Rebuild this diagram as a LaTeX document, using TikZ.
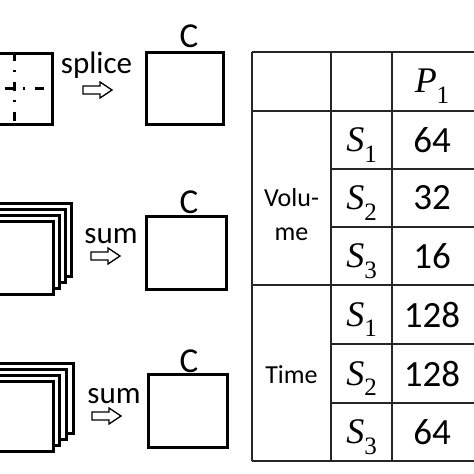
\documentclass[tikz,border=0pt]{standalone}
\usepackage{fontspec}
\setmainfont{Carlito}
\newfontfamily\symfont{Liberation Serif}
\newcommand\symsub[2]{{\symfont\itshape #1}\raisebox{-0.3em}{\symfont\fontsize{25}{26}\selectfont #2}}
\usetikzlibrary{positioning}

\begin{document}
\begin{tikzpicture}[x=1pt, y=-1pt,
    sqbox/.style={draw, line width=3pt, fill=white, inner sep=0pt, minimum width=79pt, minimum height=73pt},
    splitline/.style={line width=3pt, dash pattern=on 9pt off 9pt on 2pt off 10pt},
    lbl/.style={font=\fontsize{31}{36}\selectfont, anchor=base, inner sep=0pt},
    clbl/.style={font=\fontsize{35}{40}\selectfont, anchor=base, inner sep=0pt},
    cell/.style={font=\fontsize{37}{42}\selectfont, inner sep=0pt},
    mcell/.style={font=\fontsize{36}{40}\selectfont, inner sep=0pt},
    grp/.style={font=\fontsize{26}{34}\selectfont, align=center, inner sep=0pt},
    tabline/.style={line width=1.3pt, black!85},
    hollowarr/.pic={\draw[line width=1.3pt, line join=miter] (0,-4) -- (17,-4) -- (17,-8) -- (29,0) -- (17,8) -- (17,4) -- (0,4) -- cycle;}
]
\fill[white] (0,0) rectangle (474,474);
\useasboundingbox (0,0) rectangle (474,474);
\clip (0,0) rectangle (474,474);

\def\xA{252}
\def\xB{331}
\def\xC{392}
\def\xD{474}
\def\xS{361.5}
\def\xVal{432}
\def\yA{52}
\def\yB{111}
\def\yC{169}
\def\yD{227}
\def\yE{285}
\def\yF{344}
\def\yG{403}
\def\yH{461}

% --- Row 1: splice ---
\node[sqbox, minimum width=76pt, minimum height=71pt] (split) at (14, 88.5) {};
\draw[splitline] (split.north) -- (split.south);
\draw[splitline] (split.west) -- (split.east);
\node[lbl] (splice) at (96.5, 73) {splice};
\pic at (83, 90) {hollowarr};
\node[sqbox, minimum width=77pt, minimum height=72pt] (sqC1) at (184.5, 88) {};
\node[clbl] (lblC1) at (189, 47) {C};

% --- Row 2: sum ---
\foreach \k in {3,2,1,0} {
    \node[sqbox, minimum width=80pt, minimum height=73pt] (stackA\k) at ({13+6*\k}, {257.5-5.7*\k}) {};
}
\node[lbl] (sumA) at (111, 243) {sum};
\pic at (91, 256) {hollowarr};
\node[sqbox, minimum width=80pt, minimum height=73pt] (sqC2) at (186, 252.5) {};
\node[clbl] (lblC2) at (189, 213) {C};

% --- Row 3: sum ---
\foreach \k in {3,2,1,0} {
    \node[sqbox, minimum width=80pt, minimum height=70pt] (stackB\k) at ({13+6.7*\k}, {416-6*\k}) {};
}
\node[lbl] (sumB) at (114, 403) {sum};
\pic at (92, 416) {hollowarr};
\node[sqbox, minimum width=79pt, minimum height=73pt] (sqC3) at (187.5, 410.5) {};
\node[clbl] (lblC3) at (189, 372) {C};

% --- Table grid ---
\foreach \y in {\yA, \yB, \yE, \yH} \draw[tabline] (\xA, \y) -- (\xD, \y);
\foreach \y in {\yC, \yD, \yF, \yG} \draw[tabline] (\xB, \y) -- (\xD, \y);
\foreach \x in {\xA, \xB, \xC} \draw[tabline] (\x, \yA) -- (\x, \yH);

% Header
\node[mcell] (hdP) at (\xVal, 86) {\symsub{P}{1}};

% Volume block
\node[grp] (volume) at (291.5, 215) {Volu-\\me};
\node[mcell] (volS1) at (\xS, 145) {\symsub{S}{1}};
\node[mcell] (volS2) at (\xS, 203) {\symsub{S}{2}};
\node[mcell] (volS3) at (\xS, 261) {\symsub{S}{3}};
\node[cell] (vol1) at (\xVal, 140) {64};
\node[cell] (vol2) at (\xVal, 198) {32};
\node[cell] (vol3) at (\xVal, 256) {16};

% Time block
\node[grp] (time) at (291.5, 375) {Time};
\node[mcell] (timS1) at (\xS, 319.5) {\symsub{S}{1}};
\node[mcell] (timS2) at (\xS, 378.5) {\symsub{S}{2}};
\node[mcell] (timS3) at (\xS, 437) {\symsub{S}{3}};
\node[cell] (tim1) at (\xVal, 314.5) {128};
\node[cell] (tim2) at (\xVal, 373.5) {128};
\node[cell] (tim3) at (\xVal, 432) {64};

\end{tikzpicture}
\end{document}
